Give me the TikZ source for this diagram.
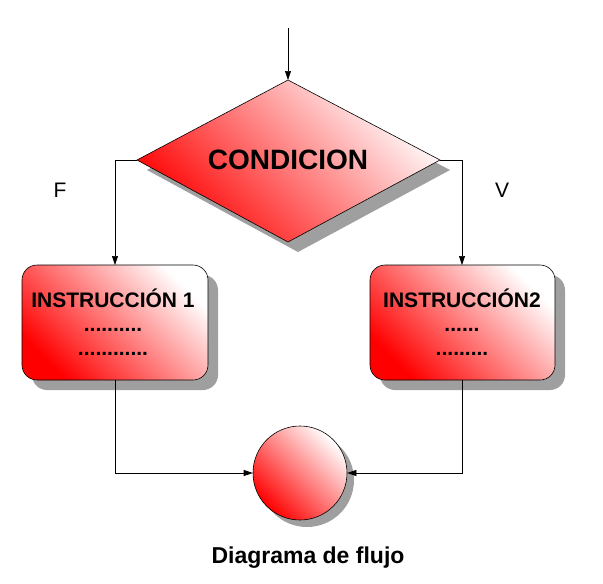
\documentclass[tikz,border=0pt]{standalone}
\usepackage{fontspec}
\setmainfont{Liberation Sans}
\usetikzlibrary{arrows.meta}
\begin{document}
\begin{tikzpicture}[x=1pt,y=-1pt,
  fillg/.style={draw=black,line width=0.6pt,top color=white,bottom color=red,shading angle=-45},
  shad/.style={fill=gray!75,draw=none},
  conn/.style={line width=0.6pt,-{Triangle[length=9pt,width=6pt]}},
  lbl/.style={font=\fontsize{21}{24}\selectfont\bfseries,align=center,inner sep=0}]
\useasboundingbox (0,0) rectangle (603,584);
% shadows
\fill[shad] (298,90) -- (450,170) -- (298,252) -- (147,170) -- cycle;
\fill[shad,rounded corners=15] (32,275) rectangle (218,390);
\fill[shad,rounded corners=15] (380,275) rectangle (565,390);
\fill[shad] (307,480) circle (47);
% shapes
\path[fillg] (288,80) -- (440,160) -- (288,242) -- (137,160) -- cycle;
\node[inner sep=0,font=\fontsize{28}{30}\selectfont\bfseries] (cond) at (288,160) {CONDICION};
\coordinate (dl) at (137,160); \coordinate (dr) at (440,160); \coordinate (dt) at (288,80);
\path[fillg,rounded corners=15] (22,265) rectangle (208,380);
\node[lbl] (i1) at (113,322) {INSTRUCCIÓN 1\\ ..........\\ ............};
\path[fillg,rounded corners=15] (370,265) rectangle (555,380);
\node[lbl] (i2) at (462,322) {INSTRUCCIÓN2\\ ......\\ .........};
\node[fillg,circle,minimum size=94pt,inner sep=0] (c) at (300,473) {};
\coordinate (top) at (288,28);
\coordinate (b1t) at (115,265); \coordinate (b1b) at (115,380);
\coordinate (b2t) at (462,265); \coordinate (b2b) at (462,380);
% connectors
\draw[conn] (top) -- (dt);
\draw[conn] (dl) -| (b1t);
\draw[conn] (dr) -| (b2t);
\draw[conn] (b1b) |- (c.west);
\draw[conn] (b2b) |- (c.east);
\node[font=\fontsize{21}{24}\selectfont] (F) at (60,190) {F};
\node[font=\fontsize{21}{24}\selectfont] (V) at (502,190) {V};
\node[font=\fontsize{23}{26}\selectfont\bfseries] (t) at (308,558) {Diagrama de flujo};
\end{tikzpicture}
\end{document}
